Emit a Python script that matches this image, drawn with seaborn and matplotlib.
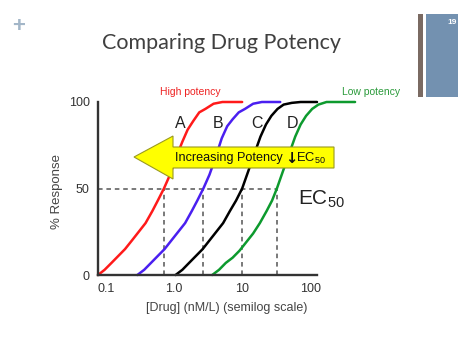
import pandas as pd
import seaborn as sns
import matplotlib.pyplot as plt
from matplotlib.patches import Polygon, Rectangle

# values: [Drug] (nM/L) and % response for each curve
conc_a = [0.076, 0.095, 0.12, 0.151, 0.19, 0.24, 0.302, 0.38, 0.479, 0.575, 0.708,
          0.871, 1.07, 1.32, 1.58, 1.91, 2.34, 2.88, 3.8, 5.13, 10]
resp_a = [0, 3, 7, 11, 15, 20, 25, 30, 37, 43, 50, 58, 68, 77, 84, 89, 94, 96, 99, 100, 100]
conc_b = [0.288, 0.363, 0.457, 0.575, 0.724, 0.912, 1.15, 1.45, 1.82, 2.19, 2.69,
          3.31, 4.07, 5.01, 6.03, 7.24, 8.91, 11.0, 14.5, 19.5, 36.3]
resp_b = [0, 3, 7, 11, 15, 20, 25, 30, 37, 43, 50, 58, 68, 79, 86, 90, 94, 96, 99, 100, 100]
conc_c = [1.05, 1.32, 1.66, 2.09, 2.63, 3.31, 4.17, 5.25, 6.61, 8.13, 10,
          12.3, 15.1, 18.6, 22.4, 26.9, 33.1, 40.7, 53.7, 72.4, 126]
resp_c = [0, 3, 7, 11, 15, 20, 25, 30, 37, 43, 50, 60, 70, 80, 87, 92, 96, 98.5, 99.5, 100, 100]
conc_d = [3.63, 4.57, 5.75, 7.24, 9.12, 11.5, 14.5, 18.2, 22.9, 27.5, 32.4,
          39.8, 49, 60.3, 72.4, 87.1, 107, 132, 174, 457]
resp_d = [0, 3, 7, 10, 14, 19, 24, 30, 37, 43, 50, 60, 70, 80, 87, 92, 96, 98.5, 100, 100]
ec50 = [0.71, 2.7, 10, 32]
drugs = ['A', 'B', 'C', 'D']
drug_colors = ['#ff1a1a', '#4a1ff0', '#000000', '#0d9a2e']
x_ticks = [0.1, 1, 10, 100]
x_tick_labels = ['0.1', '1.0', '10', '100']
y_ticks = [0, 50, 100]

df = pd.concat([
    pd.DataFrame({'conc': c, 'response': r, 'drug': d})
    for c, r, d in zip([conc_a, conc_b, conc_c, conc_d],
                       [resp_a, resp_b, resp_c, resp_d], drugs)
])

sns.set_style('white')
plt.rcParams['font.family'] = ['Liberation Sans', 'DejaVu Sans']
plt.rcParams['mathtext.default'] = 'regular'

W, H = 474, 355
fig = plt.figure(figsize=(W / 100, H / 100), dpi=100)

def fx(px):
    return px / W

def fy(py):
    return 1 - py / H

ax = fig.add_axes([fx(98), fy(275), (317 - 98) / W, (275 - 102) / H])

sns.lineplot(data=df, x='conc', y='response', hue='drug', sort=False,
             palette=dict(zip(drugs, drug_colors)), legend=False,
             linewidth=1.8, ax=ax)
for line in ax.lines:
    line.set_clip_on(False)
    line.set_solid_capstyle('round')
    line.set_solid_joinstyle('round')

# EC50 guide lines
ax.plot([0.076, max(ec50)], [50, 50], ls=(0, (3, 2.5)), color='#555555', lw=1.1, zorder=1)
for e in ec50:
    ax.plot([e, e], [0, 50], ls=(0, (3, 2.5)), color='#555555', lw=1.1, zorder=1)

ax.set_xscale('log')
ax.set_xlim(0.076, 126)
ax.set_ylim(0, 100)
ax.set_xticks(x_ticks)
ax.set_xticklabels(x_tick_labels)
ax.minorticks_off()
ax.set_yticks(y_ticks)
ax.tick_params(axis='both', labelsize=9, colors='#333333', length=3, width=1.2,
               direction='out', pad=3)
ax.set_xlabel('')
ax.set_ylabel('')
for s in ['top', 'right']:
    ax.spines[s].set_visible(False)
for s in ['left', 'bottom']:
    ax.spines[s].set_color('#333333')
    ax.spines[s].set_linewidth(1.7)

fig.text(fx(227), fy(308), '[Drug] (nM/L) (semilog scale)', ha='center', va='center',
         fontsize=9, color='#444444')
fig.text(fx(57), fy(192), '% Response', ha='center', va='center', rotation=90,
         fontsize=9.5, color='#444444')

# curve labels
for name, px in zip(drugs, [180, 218, 257, 292]):
    fig.text(fx(px), fy(124), name, ha='center', va='center', fontsize=11.5, color='#222222')
fig.text(fx(190), fy(92), 'High potency', ha='center', va='center', fontsize=7.5, color='#ee2222')
fig.text(fx(371), fy(92), 'Low potency', ha='center', va='center', fontsize=7.5, color='#2a9a3a')
fig.text(fx(298), fy(199), 'EC$_{50}$', ha='left', va='center', fontsize=15, color='#222222')

# yellow arrow
arrow_px = [(134, 157), (173, 136), (173, 147), (334, 147), (334, 168), (173, 168), (173, 179)]
fig.patches.append(Polygon([(fx(a), fy(b)) for a, b in arrow_px], closed=True,
                           transform=fig.transFigure, facecolor='#ffff00',
                           edgecolor='#9a9a20', lw=0.8, zorder=5))
fig.text(fx(175), fy(158), 'Increasing Potency', ha='left', va='center',
         fontsize=9.1, color='#111111', zorder=6)
fig.text(fx(291), fy(158), '\u2193', ha='center', va='center', fontsize=10.5,
         fontweight='bold', family=['DejaVu Sans'], color='#111111', zorder=6)
fig.text(fx(296.5), fy(158), 'EC$_{50}$', ha='left', va='center',
         fontsize=9.3, color='#111111', zorder=6)

# slide decoration
fig.text(fx(222), fy(43), 'Comparing Drug Potency', ha='center', va='center',
         fontsize=15.5, color='#404040', family=['Lato', 'DejaVu Sans'])
fig.text(fx(19), fy(27), '+', ha='center', va='center', fontsize=16, fontweight='bold',
         color='#a3b6c8')
fig.patches.append(Rectangle((fx(418), fy(97)), 5 / W, 83 / H, transform=fig.transFigure,
                             facecolor='#7a6a62', edgecolor='none'))
fig.patches.append(Rectangle((fx(426), fy(97)), 32 / W, 83 / H, transform=fig.transFigure,
                             facecolor='#7391b0', edgecolor='none'))
fig.text(fx(452), fy(22), '19', ha='center', va='center', fontsize=6, fontweight='bold',
         color='white')

fig.savefig('out.png', dpi=100, facecolor='white')
